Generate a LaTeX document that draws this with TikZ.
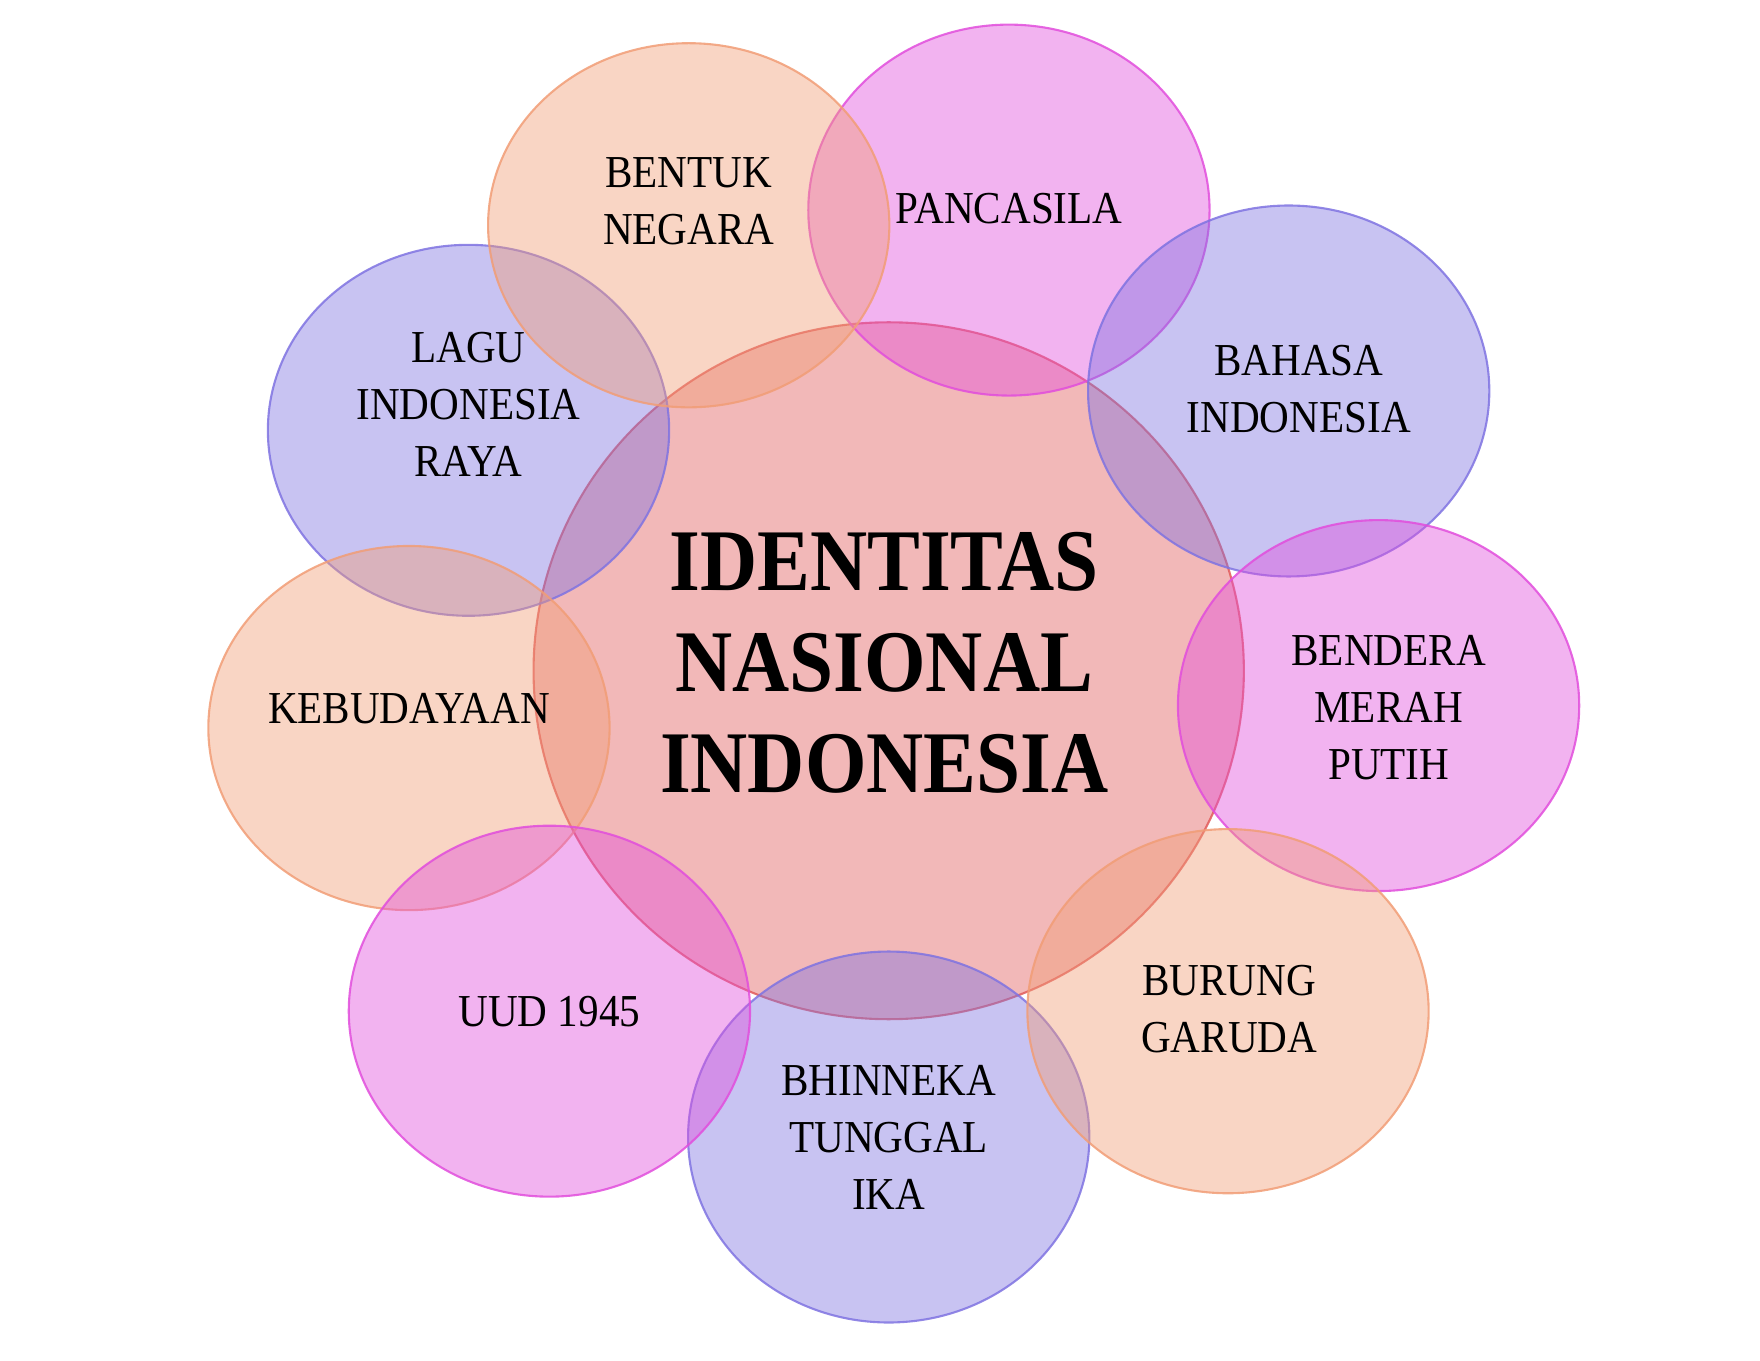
\documentclass[tikz,border=0pt]{standalone}
\usepackage{fontspec}
\setmainfont[FakeStretch=0.9]{Liberation Serif}
\usetikzlibrary{shapes.geometric}

\definecolor{peach}{RGB}{241,157,118}
\definecolor{pinkish}{RGB}{225,78,220}
\definecolor{lavender}{RGB}{127,115,225}
\definecolor{coral}{RGB}{225,90,90}

\begin{document}
\begin{tikzpicture}[
  x = 0.011235cm, y = -0.011235cm,
  bubble/.style = {
    shape = ellipse,
    draw = #1,
    fill = #1,
    fill opacity = 0.43,
    draw opacity = 0.85,
    line width = 0.6pt,
    minimum width = 4.011cm,
    minimum height = 3.708cm,
    inner sep = 0pt,
    outer sep = 0pt,
  },
  flat/.style = {minimum height = 3.64cm},
  label/.style = {
    align = center,
    font = \fontsize{13}{16.2}\selectfont,
    inner sep = 0pt,
  }
]
  \useasboundingbox (0, 0) rectangle (1566.5, 1210.5);

  % middle first, the ring on top of it
  \node[bubble = coral, minimum width = 7.10cm, minimum height = 6.966cm]
    (identitas) at (791, 597) {};

  \node[bubble = pinkish] (pancasila) at (898, 187) {};
  \node[bubble = lavender] (bahasa) at (1147, 348) {};
  \node[bubble = pinkish] (bendera) at (1227, 628) {};
  \node[bubble = lavender] (bhinneka) at (791, 1012) {};
  \node[bubble = peach, flat] (garuda) at (1093, 900) {};
  \node[bubble = lavender] (lagu) at (417, 383) {};
  \node[bubble = peach, flat] (budaya) at (364, 648) {};
  \node[bubble = pinkish] (uud) at (489, 900) {};
  \node[bubble = peach, flat] (bentuk) at (613, 200.5) {};

  \node[label] (bentuk-text) at (613, 179) {BENTUK\\NEGARA};
  \node[label] (pancasila-text) at (898, 186) {PANCASILA};
  \node[label] (bahasa-text) at (1156, 346) {BAHASA\\INDONESIA};
  \node[label] (bendera-text) at (1236, 630) {BENDERA\\MERAH\\PUTIH};
  \node[label] (garuda-text) at (1094, 898) {BURUNG\\GARUDA};
  \node[label] (bhinneka-text) at (791, 1012) {BHINNEKA\\TUNGGAL\\IKA};
  \node[label] (uud-text) at (489, 900) {UUD 1945};
  \node[label] (budaya-text) at (364, 631) {KEBUDAYAAN};
  \node[label] (lagu-text) at (417, 360) {LAGU\\INDONESIA\\RAYA};

  \node[label, font = \fontsize{25}{28.7}\selectfont\bfseries]
    (identitas-text) at (787, 590) {IDENTITAS\\NASIONAL\\INDONESIA};
\end{tikzpicture}
\end{document}
